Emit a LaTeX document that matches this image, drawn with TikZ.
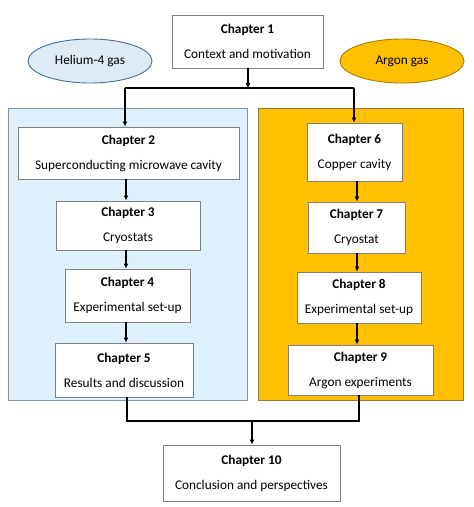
\documentclass[tikz,border=0pt]{standalone}
\usepackage{fontspec}
\setmainfont{Carlito}
\usetikzlibrary{arrows.meta,shapes.geometric}
\definecolor{panelblue}{HTML}{DEF0FB}
\definecolor{panelblueborder}{HTML}{7F93A6}
\definecolor{gold}{HTML}{FFC000}
\definecolor{goldborder}{HTML}{8C7A3C}
\definecolor{ellblue}{HTML}{DEEBF7}
\definecolor{ellblueborder}{HTML}{41719C}
\definecolor{ellgoldborder}{HTML}{A87E00}
\definecolor{boxborder}{HTML}{7F7F7F}
\tikzset{
  chapbox/.style={draw=boxborder, line width=0.9pt, fill=white, rectangle, inner sep=0pt,
    align=center, font=\fontsize{13.3}{25}\selectfont},
  gasell/.style={ellipse, line width=0.9pt, inner sep=0pt, minimum width=124pt, minimum height=44pt,
    font=\fontsize{13.3}{16}\selectfont},
  panel/.style={line width=0.9pt},
  conn/.style={line width=1.2pt, black},
  arr/.style={conn, -{Latex[length=5pt,width=5pt]}}
}
\begin{document}
\begin{tikzpicture}[x=1pt,y=-1pt]
\useasboundingbox (0,0) rectangle (474,507);
% panels
\draw[panel, fill=panelblue, draw=panelblueborder] (8,108) rectangle (247,400);
\draw[panel, fill=gold, draw=goldborder] (258,108) rectangle (463,400);
% ellipses
\node[gasell, fill=ellblue, draw=ellblueborder] (he) at (90,61) {Helium-4 gas};
\node[gasell, fill=gold, draw=ellgoldborder] (ar) at (402,61) {Argon gas};
% chapters
\node[chapbox, minimum width=151pt, minimum height=53pt] (c1) at (247.5,41.5) {\textbf{Chapter 1}\\Context and motivation};
\node[chapbox, minimum width=221pt, minimum height=52pt] (c2) at (128.5,153) {\textbf{Chapter 2}\\Superconducting microwave cavity};
\node[chapbox, minimum width=144pt, minimum height=49pt] (c3) at (128,225.5) {\textbf{Chapter 3}\\Cryostats};
\node[chapbox, minimum width=125pt, minimum height=53pt] (c4) at (127.5,295.5) {\textbf{Chapter 4}\\Experimental set-up};
\node[chapbox, minimum width=138pt, minimum height=54pt] (c5) at (124,370) {\textbf{Chapter 5}\\Results and discussion};
\node[chapbox, minimum width=95pt, minimum height=58pt] (c6) at (354.5,152) {\textbf{Chapter 6}\\Copper cavity};
\node[chapbox, minimum width=97pt, minimum height=51pt] (c7) at (356.5,227.5) {\textbf{Chapter 7}\\Cryostat};
\node[chapbox, minimum width=124pt, minimum height=51pt] (c8) at (359,297.5) {\textbf{Chapter 8}\\Experimental set-up};
\node[chapbox, minimum width=145pt, minimum height=50pt] (c9) at (360.5,370) {\textbf{Chapter 9}\\Argon experiments};
\node[chapbox, minimum width=177pt, minimum height=56pt] (c10) at (251.5,473) {\textbf{Chapter 10}\\Conclusion and perspectives};
% coordinates
\coordinate (split) at (248,88);
\coordinate (splitL) at (125,88);
\coordinate (splitR) at (354,88);
\coordinate (colL) at (126,0);
\coordinate (colR) at (357,0);
\coordinate (mergeL) at (127,421);
\coordinate (mergeR) at (359,421);
\coordinate (merge) at (252,421);
% connectors top
\draw[arr] (c1.south -| split) -- (split);
\draw[conn] (splitL) -- (splitR);
\draw[arr] (splitL) -- (splitL |- c2.north);
\draw[arr] (splitR) -- (splitR |- c6.north);
% left chain
\draw[arr] (c2.south -| colL) -- (c3.north -| colL);
\draw[arr] (c3.south -| colL) -- (c4.north -| colL);
\draw[arr] (c4.south -| colL) -- (c5.north -| colL);
% right chain
\draw[arr] (c6.south -| colR) -- (c7.north -| colR);
\draw[arr] (c7.south -| colR) -- (c8.north -| colR);
\draw[arr] (c8.south -| colR) -- (c9.north -| colR);
% merge
\draw[conn] (c5.south -| mergeL) -- (mergeL) -- (mergeR) -- (c9.south -| mergeR);
\draw[arr] (merge) -- (merge |- c10.north);
\end{tikzpicture}
\end{document}
